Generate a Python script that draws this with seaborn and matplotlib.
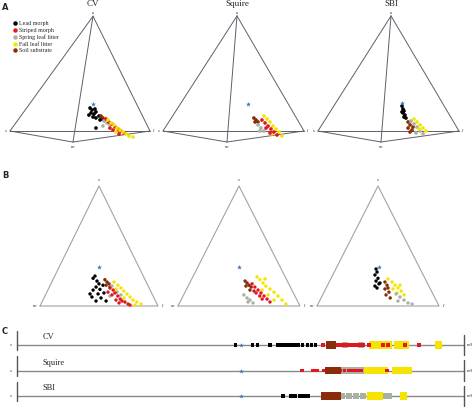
import numpy as np
import pandas as pd
import matplotlib
matplotlib.use("Agg")
import matplotlib.pyplot as plt
from matplotlib.lines import Line2D
import seaborn as sns

sns.set_style("white")
plt.rcParams['font.family'] = ['Liberation Serif', 'DejaVu Serif']

### DATA ###

groups = ["Lead morph", "Striped morph", "Spring leaf litter", "Fall leaf litter", "Soil substrate"]
palette = {"Lead morph": "#000000", "Striped morph": "#e3161f", "Spring leaf litter": "#a8b2a4",
           "Fall leaf litter": "#f6e400", "Soil substrate": "#8a2b0a"}
sites = ["CV", "Squire", "SBI"]
achro_color = "#3f6fb8"

# A: tetrahedral colour space, projected (x, y)
cv_tet_lead = [(-.021, .164), (-.007, .15), (.014, .157), (-.014, .129), (.007, .121), (.021, .136), (0, .1),
               (.021, .093), (.043, .107), (-.029, .114), (.05, .079), (.021, .021), (.064, .086)]
cv_tet_striped = [(.093, .086), (.114, .064), (.136, .05), (.157, .029), (.179, .014), (.2, 0), (.221, -.014),
                  (.143, .007), (.186, -.021), (.121, .021)]
cv_tet_spring = [(.079, .071), (.1, .057), (.121, .043), (.071, .036)]
cv_tet_fall = [(.107, .079), (.129, .057), (.15, .043), (.171, .021), (.193, .007), (.214, -.007), (.236, -.021),
               (.257, -.036), (.286, -.043), (.164, -.007)]
cv_tet_soil = [(.057, .107), (.071, .093)]

sq_tet_striped = [(.177, .078), (.199, .057), (.22, .035), (.241, .014), (.262, -.007), (.284, -.028),
                  (.206, .021), (.234, -.014)]
sq_tet_spring = [(.149, .043), (.17, .021), (.191, 0), (.163, 0)]
sq_tet_fall = [(.191, .106), (.213, .085), (.234, .064), (.255, .035), (.277, .014), (.298, -.007),
               (.319, -.035), (.248, -.021)]
sq_tet_soil = [(.12, .092), (.135, .078), (.149, .064), (.128, .064)]

sbi_tet_lead = [(.078, .177), (.085, .156), (.092, .142), (.085, .128), (.099, .113), (.092, .099),
                (.106, .092), (.078, .135)]
sbi_tet_spring = [(.142, .071), (.163, .05), (.184, .028), (.206, 0), (.227, -.021), (.177, -.014)]
sbi_tet_fall = [(.163, .085), (.184, .064), (.206, .043), (.227, .021), (.248, 0), (.199, .014)]
sbi_tet_soil = [(.121, .064), (.135, .043), (.121, .021), (.149, .007), (.135, -.007), (.156, .028)]

tet_achro = [(0, .193), (.078, .191), (.078, .199)]

# B: s/m/l triangle (x, y)
cv_tri_lead = [(-.05, .20), (-.034, .216), (-.017, .18), (0, .16), (-.025, .137), (-.05, .115), (.008, .12),
               (.034, .15), (-.008, .087), (.042, .094), (-.06, .065), (.017, .058), (.06, .036), (-.025, .036),
               (-.076, .087)]
cv_tri_striped = [(.093, .13), (.12, .115), (.135, .094), (.11, .08), (.16, .072), (.18, .05), (.195, .036),
                  (.144, .043), (.22, .029), (.246, .014), (.076, .10), (.17, .022), (.263, .007)]
cv_tri_spring = [(.11, .144), (.153, .10), (.186, .08), (.093, .072)]
cv_tri_fall = [(.127, .173), (.16, .15), (.186, .13), (.21, .108), (.237, .087), (.263, .065), (.288, .043),
               (.32, .029), (.356, .014), (.144, .122), (.212, .058), (.305, .007)]
cv_tri_soil = [(.05, .19), (.068, .173), (.085, .16), (.06, .15), (.093, .137)]

sq_tri_striped = [(.107, .16), (.13, .137), (.156, .115), (.18, .094), (.205, .072), (.23, .05), (.14, .094),
                  (.19, .05), (.254, .029), (.17, .072), (.123, .108)]
sq_tri_spring = [(.04, .08), (.066, .058), (.09, .043), (.115, .022), (.074, .029)]
sq_tri_fall = [(.148, .21), (.172, .19), (.197, .166), (.22, .144), (.254, .123), (.287, .10), (.32, .072),
               (.352, .043), (.385, .014), (.19, .115), (.238, .08), (.287, .043), (.213, .195)]
sq_tri_soil = [(.05, .18), (.066, .166), (.082, .15), (.1, .137), (.057, .144), (.09, .115)]

sbi_tri_lead = [(-.016, .267), (-.008, .245), (-.025, .224), (0, .2), (-.016, .18), (.008, .16), (-.025, .144),
                (-.008, .13), (.016, .166)]
sbi_tri_spring = [(.148, .087), (.18, .065), (.213, .043), (.246, .022), (.164, .036), (.28, .014)]
sbi_tri_fall = [(.082, .195), (.115, .173), (.14, .15), (.164, .13), (.19, .108), (.123, .123), (.156, .094),
                (.213, .08), (.18, .15)]
sbi_tri_soil = [(.057, .173), (.074, .15), (.057, .123), (.09, .1), (.066, .08), (.1, .058), (.082, .13)]

tri_achro = [(0, .28), (0, .28), (.008, .28)]

# C: s vs m/l axis (position 0..1)
cv_line_lead = [.488, .526, .539, .566, .582, .589, .595, .602, .609, .615, .622, .629, .638, .649, .658, .667]
cv_line_striped = [.685, .696, .705, .714, .723, .732, .741, .749, .758, .767, .774, .787, .819, .83, .868, .899]
cv_line_spring = [.707, .734, .77]
cv_line_fall = [.796, .805, .814, .823, .832, .852, .861, .87, .942]
cv_line_soil = [.70, .705]

sq_line_striped = [.638, .662, .671, .687, .724, .733, .742, .751, .76, .769, .828]
sq_line_spring = [.723, .734, .745, .756, .767, .779, .79]
sq_line_fall = [.785, .794, .803, .812, .821, .846, .855, .864, .875]
sq_line_soil = [.696, .702, .709, .716]

sbi_line_lead = [.595, .611, .617, .624, .631, .638, .644, .651]
sbi_line_spring = [.711, .727, .743, .758, .774, .79, .805, .821, .832]
sbi_line_fall = [.79, .799, .81, .864]
sbi_line_soil = [.689, .698, .707, .718]

line_achro = [.5, .5, .5]

### TABLES ###

tet = {"CV": [("Lead morph", cv_tet_lead), ("Soil substrate", cv_tet_soil), ("Spring leaf litter", cv_tet_spring),
              ("Striped morph", cv_tet_striped), ("Fall leaf litter", cv_tet_fall)],
       "Squire": [("Soil substrate", sq_tet_soil), ("Spring leaf litter", sq_tet_spring),
                  ("Fall leaf litter", sq_tet_fall), ("Striped morph", sq_tet_striped)],
       "SBI": [("Lead morph", sbi_tet_lead), ("Soil substrate", sbi_tet_soil), ("Spring leaf litter", sbi_tet_spring),
               ("Fall leaf litter", sbi_tet_fall)]}
tri = {"CV": [("Lead morph", cv_tri_lead), ("Soil substrate", cv_tri_soil), ("Spring leaf litter", cv_tri_spring),
              ("Fall leaf litter", cv_tri_fall), ("Striped morph", cv_tri_striped)],
       "Squire": [("Soil substrate", sq_tri_soil), ("Spring leaf litter", sq_tri_spring),
                  ("Fall leaf litter", sq_tri_fall), ("Striped morph", sq_tri_striped)],
       "SBI": [("Lead morph", sbi_tri_lead), ("Soil substrate", sbi_tri_soil), ("Fall leaf litter", sbi_tri_fall),
               ("Spring leaf litter", sbi_tri_spring)]}
lin = {"CV": [("Lead morph", cv_line_lead), ("Spring leaf litter", cv_line_spring), ("Fall leaf litter", cv_line_fall),
              ("Striped morph", cv_line_striped), ("Soil substrate", cv_line_soil)],
       "Squire": [("Spring leaf litter", sq_line_spring), ("Fall leaf litter", sq_line_fall),
                  ("Striped morph", sq_line_striped), ("Soil substrate", sq_line_soil)],
       "SBI": [("Lead morph", sbi_line_lead), ("Spring leaf litter", sbi_line_spring),
               ("Fall leaf litter", sbi_line_fall), ("Soil substrate", sbi_line_soil)]}


def to_frame(items):
    rows = []
    for g, pts in items:
        for p in pts:
            rows.append((g,) + tuple(np.atleast_1d(p)))
    return rows


### LAYOUT ###
FW, FH = 474, 407
fig = plt.figure(figsize=(FW / 100, FH / 100), dpi=100)


def px_axes(box, ref0, ref1):
    # box: pixel box (x0, y0, x1, y1); ref: ((data x, data y), (pixel x, pixel y))
    bx0, by0, bx1, by1 = box
    (dx0, dy0), (px0, py0) = ref0
    (dx1, dy1), (px1, py1) = ref1
    sx = (px1 - px0) / (dx1 - dx0)
    sy = (py1 - py0) / (dy1 - dy0)
    ax = fig.add_axes([bx0 / FW, 1 - by1 / FH, (bx1 - bx0) / FW, (by1 - by0) / FH])
    ax.set_xlim(dx0 + (bx0 - px0) / sx, dx0 + (bx1 - px0) / sx)
    ax.set_ylim(dy0 + (by1 - py0) / sy, dy0 + (by0 - py0) / sy)
    ax.set_axis_off()
    ax.patch.set_alpha(0)
    return ax


def ftext(px, py, s, **kw):
    fig.text(px / FW, 1 - py / FH, s, **kw)


# A: tetrahedra (apex pixel x, width px, vertex coords)
tet_geo = {"CV": (93, 140, {"u": (0, .82), "s": (-.593, 0), "l": (.407, 0), "m": (-.143, -.079)}),
           "Squire": (237, 141, {"u": (0, .816), "s": (-.525, 0), "l": (.475, 0), "m": (-.071, -.078)}),
           "SBI": (391, 141, {"u": (0, .816), "s": (-.518, 0), "l": (.482, 0), "m": (-.071, -.078)})}
edges = [("u", "s"), ("u", "l"), ("u", "m"), ("s", "l"), ("s", "m"), ("m", "l")]

for i, site in enumerate(sites):
    ux, W, v = tet_geo[site]
    ax = px_axes((ux - 95, 0, ux + 75, 160), ((0, 0), (ux, 131)), ((1, 1), (ux + W, 131 - W)))
    for a, b in edges:
        ax.plot([v[a][0], v[b][0]], [v[a][1], v[b][1]], color="#5f5f6a", lw=0.7, zorder=1)
    df = pd.DataFrame(to_frame(tet[site]), columns=["group", "x", "y"])
    sns.scatterplot(data=df, x="x", y="y", hue="group", palette=palette, s=7, linewidth=0,
                    legend=False, ax=ax, zorder=3)
    ax.scatter(*tet_achro[i], marker="*", s=14, color=achro_color, linewidths=0, zorder=4)
    ax.text(v["u"][0], v["u"][1] + .008, "u", fontsize=3.2, style="italic", ha="center", va="bottom")
    ax.text(v["s"][0] - .02, v["s"][1], "s", fontsize=3.5, style="italic", ha="right", va="center")
    ax.text(v["l"][0] + .02, v["l"][1], "l", fontsize=3.5, style="italic", ha="left", va="center")
    ax.text(v["m"][0], v["m"][1] - .02, "m", fontsize=3.5, style="italic", ha="center", va="top")
    ftext(ux, 4.5, site, fontsize=6.5, ha="center", va="center")

# legend in CV tetrahedron
handles = [Line2D([], [], marker="o", ls="", color=palette[g], markersize=3.2, markeredgewidth=0) for g in groups]
fig.legend(handles, groups, loc="upper left", bbox_to_anchor=(8 / FW, 1 - 18 / FH), frameon=False,
           fontsize=4.3, handletextpad=0.1, labelspacing=0.25, borderpad=0, handlelength=1.2)

# B: triangles (apex px, left px, right px)
tri_geo = {"CV": (99, 40, 158), "Squire": (239, 178, 300), "SBI": (378, 317, 439)}
h = np.sqrt(3) / 2
for i, site in enumerate(sites):
    apx, lpx, rpx = tri_geo[site]
    ax = px_axes((lpx - 12, 176, rpx + 12, 312), ((-.5, 0), (lpx, 306)), ((.5, h), (rpx, 186)))
    ax.plot([-.5, .5, 0, -.5], [0, 0, h, 0], color="#a3a3a3", lw=0.8, zorder=1)
    df = pd.DataFrame(to_frame(tri[site]), columns=["group", "x", "y"])
    sns.scatterplot(data=df, x="x", y="y", hue="group", palette=palette, s=6, linewidth=0,
                    legend=False, ax=ax, zorder=3)
    ax.scatter(*tri_achro[i], marker="*", s=14, color=achro_color, linewidths=0, zorder=4)
    ax.text(0, h + .03, "s", fontsize=3.5, style="italic", ha="center", va="bottom")
    ax.text(-.53, 0, "m", fontsize=3.5, style="italic", ha="right", va="center")
    ax.text(.53, 0, "l", fontsize=3.5, style="italic", ha="left", va="center")

# C: one-dimensional lines
axc = px_axes((0, 318, FW, FH), ((0, 0), (17, 345)), ((1, 2), (464, 396)))
c_sizes = {"Lead morph": 5, "Striped morph": 7, "Spring leaf litter": 20, "Fall leaf litter": 26,
           "Soil substrate": 26}
for r, site in enumerate(sites):
    axc.plot([0, 1], [r, r], color="#8a8a8a", lw=1.0, zorder=1)
    axc.plot([0, 0], [r - .55, r + .2], color="#555555", lw=1.0, zorder=1)
    axc.plot([1, 1], [r - .4, r + .4], color="#555555", lw=1.0, zorder=1)
    df = pd.DataFrame(to_frame(lin[site]), columns=["group", "t"])
    df["row"] = r
    sns.scatterplot(data=df, x="t", y="row", hue="group", palette=palette, size="group", sizes=c_sizes,
                    marker="s", linewidth=0, legend=False, ax=axc, zorder=3)
    axc.scatter(line_achro[r], r, marker="*", s=12, color=achro_color, linewidths=0, zorder=4)
    axc.text(-.012, r, "s", fontsize=3.5, style="italic", ha="right", va="center")
    axc.text(1.006, r, "m/l", fontsize=3.5, style="italic", ha="left", va="center")
    axc.text(.058, r - .15, site, fontsize=6, ha="left", va="bottom")

# panel letters
ftext(2, 7, "A", fontsize=6, fontweight="bold", family="DejaVu Sans", va="center")
ftext(2, 176, "B", fontsize=6, fontweight="bold", family="DejaVu Sans", va="center")
ftext(2, 331, "C", fontsize=6, fontweight="bold", family="DejaVu Sans", va="center")

plt.savefig("out.png", dpi=100)
